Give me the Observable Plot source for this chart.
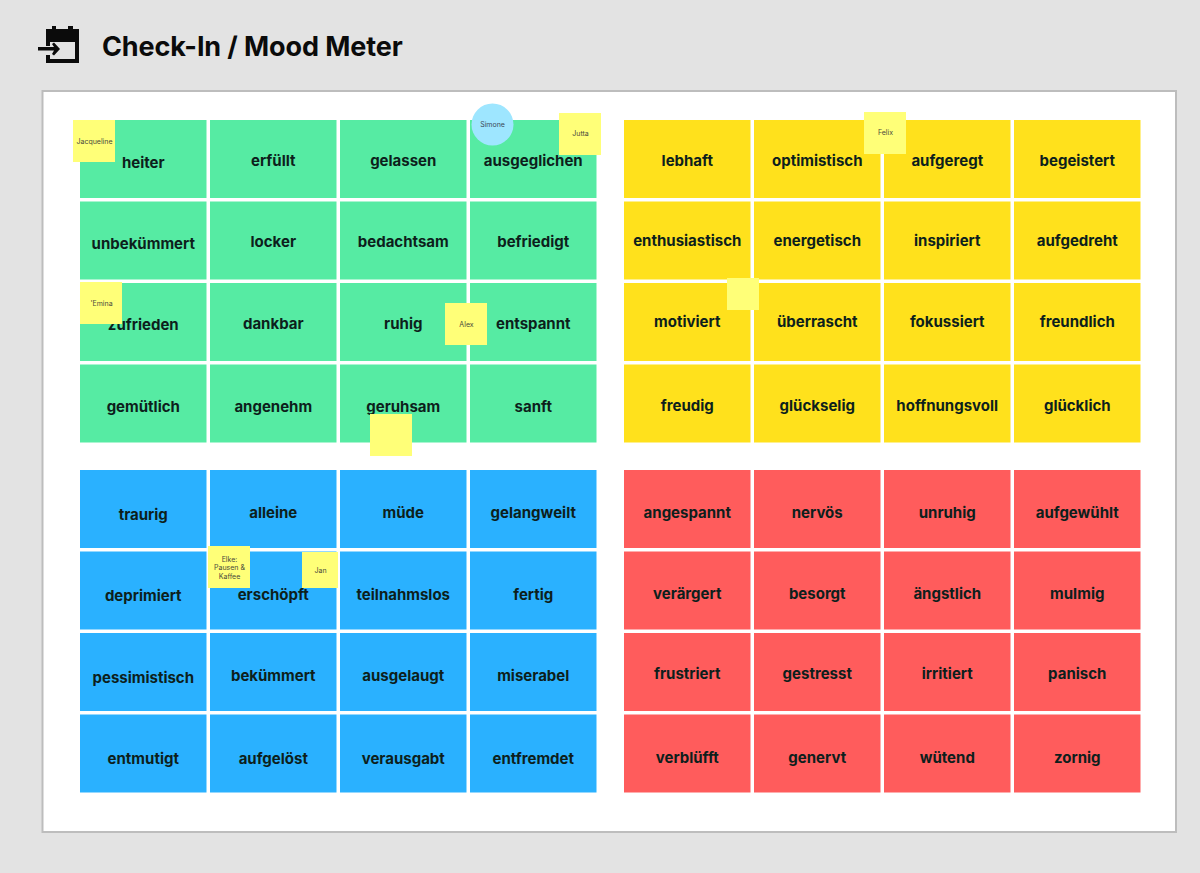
<!DOCTYPE html>
<html lang="de">
<head>
<meta charset="utf-8">
<script src="https://cdn.jsdelivr.net/npm/d3@7"></script>
<script src="https://cdn.jsdelivr.net/npm/@observablehq/plot@0.6"></script>
<style>
html,body{margin:0;padding:0;width:1200px;height:873px;overflow:hidden;background:#e3e3e3;}
#head{position:relative;height:90px;}
#head svg{position:absolute;left:0;top:0;}
#head h1{position:absolute;left:102px;top:29px;margin:0;font:700 27px/36px Inter,sans-serif;letter-spacing:-0.1px;color:#0b0b0b;white-space:nowrap;}
#chart svg{display:block;}
</style>
</head>
<body>
<div id="head">
  <svg width="100" height="90" viewBox="0 0 100 90" fill="#0b0b0b">
    <path d="M46 29h6v-3h4v3h12v-3h5v3h6v34H46v-8h4v4h25V42H50v4h-4z"/>
    <path d="M38 47h16l-2-3 2-1.500 6 6.500-6 6.500-2-1.500 2-3.500H38z"/>
  </svg>
  <h1>Check-In / Mood Meter</h1>
</div>
<div id="chart"></div>
<script>
const greenWords = ["heiter","erfüllt","gelassen","ausgeglichen","unbekümmert","locker","bedachtsam","befriedigt","zufrieden","dankbar","ruhig","entspannt","gemütlich","angenehm","geruhsam","sanft"];
const yellowWords = ["lebhaft","optimistisch","aufgeregt","begeistert","enthusiastisch","energetisch","inspiriert","aufgedreht","motiviert","überrascht","fokussiert","freundlich","freudig","glückselig","hoffnungsvoll","glücklich"];
const blueWords = ["traurig","alleine","müde","gelangweilt","deprimiert","erschöpft","teilnahmslos","fertig","pessimistisch","bekümmert","ausgelaugt","miserabel","entmutigt","aufgelöst","verausgabt","entfremdet"];
const redWords = ["angespannt","nervös","unruhig","aufgewühlt","verärgert","besorgt","ängstlich","mulmig","frustriert","gestresst","irritiert","panisch","verblüfft","genervt","wütend","zornig"];

const colLeft = [80, 210, 340, 470];
const rowTop = [120, 201.5, 283, 364.5];
const cellW = 126.5, cellH = 78;

const quadrants = [
  {words: greenWords,  fill: "#56eba3", dx: 0,   dy: 0,   labelY: [160.7, 241.7, 323.7, 406.7]},
  {words: yellowWords, fill: "#ffe11c", dx: 544, dy: 0,   labelY: [160.7, 240.7, 321.7, 405.7]},
  {words: blueWords,   fill: "#2ab1ff", dx: 0,   dy: 350, labelY: [512.7, 594.7, 675.7, 758.7]},
  {words: redWords,    fill: "#ff5c5c", dx: 544, dy: 350, labelY: [512.7, 593.7, 673.7, 757.7]}
];
const labelOverride = {heiter: 162.7, "unbekümmert": 243.7, zufrieden: 324.7, traurig: 514.7, deprimiert: 595.7, pessimistisch: 677.7};

const cells = quadrants.flatMap(q => q.words.map((word, i) => {
  const c = i % 4, r = Math.floor(i / 4);
  const x1 = colLeft[c] + q.dx, y1 = rowTop[r] + q.dy;
  return {word, fill: q.fill, x1, x2: x1 + cellW, y1, y2: y1 + cellH,
          lx: x1 + cellW / 2 - 0.5, ly: labelOverride[word] ?? q.labelY[r]};
}));

const stickyNames = ["Jacqueline","Jutta","Felix","","'Emina","Alex","","Elke:\nPausen &\nKaffee","Jan"];
const stickyLeft  = [73, 559, 864, 727, 80, 445, 370, 208, 302];
const stickyTop   = [120, 113, 112, 278, 282, 303, 414, 546, 552];
const stickySide  = [42, 42, 42, 32, 42, 42, 42, 42, 36];
const stickyTextY = [141, 133, 132, 0, 303, 324, 0, 567, 569.5];
const stickies = stickyNames.map((name, i) => ({name, x1: stickyLeft[i], x2: stickyLeft[i] + stickySide[i], y1: stickyTop[i], y2: stickyTop[i] + stickySide[i], ty: stickyTextY[i]}));

const bubble = [{name: "Simone", x: 492, y: 124}];
const panel = [{x1: 42.5, x2: 1176, y1: 91, y2: 832}];

const plot = Plot.plot({
  width: 1200, height: 783,
  margin: 0,
  x: {domain: [0, 1200], range: [0, 1200], axis: null},
  y: {domain: [90, 873], range: [0, 783], axis: null},
  r: {type: "identity"},
  style: {background: "transparent"},
  marks: [
    Plot.rect(panel, {x1: "x1", x2: "x2", y1: "y1", y2: "y2", fill: "#ffffff", stroke: "#bdbdbd", strokeWidth: 2}),
    Plot.rect(cells, {x1: "x1", x2: "x2", y1: "y1", y2: "y2", fill: "fill"}),
    Plot.text(cells, {x: "lx", y: "ly", text: "word", fontFamily: "Inter", fontWeight: 700, fontSize: 15, fill: "#0d1f1c"}),
    Plot.rect(stickies, {x1: "x1", x2: "x2", y1: "y1", y2: "y2", fill: "#ffff78"}),
    Plot.text(stickies.filter(d => d.name), {x: d => (d.x1 + d.x2) / 2, y: "ty", text: "name", fontFamily: "Inter", fontSize: 7, fill: "#4a4a3c", lineHeight: 1.2}),
    Plot.dot(bubble, {x: "x", y: "y", r: 21, fill: "#9ee6ff"}),
    Plot.text(bubble, {x: "x", y: "y", text: "name", fontFamily: "Inter", fontSize: 7, fill: "#3c4a55"})
  ]
});
document.getElementById("chart").append(plot);
</script>
</body>
</html>
